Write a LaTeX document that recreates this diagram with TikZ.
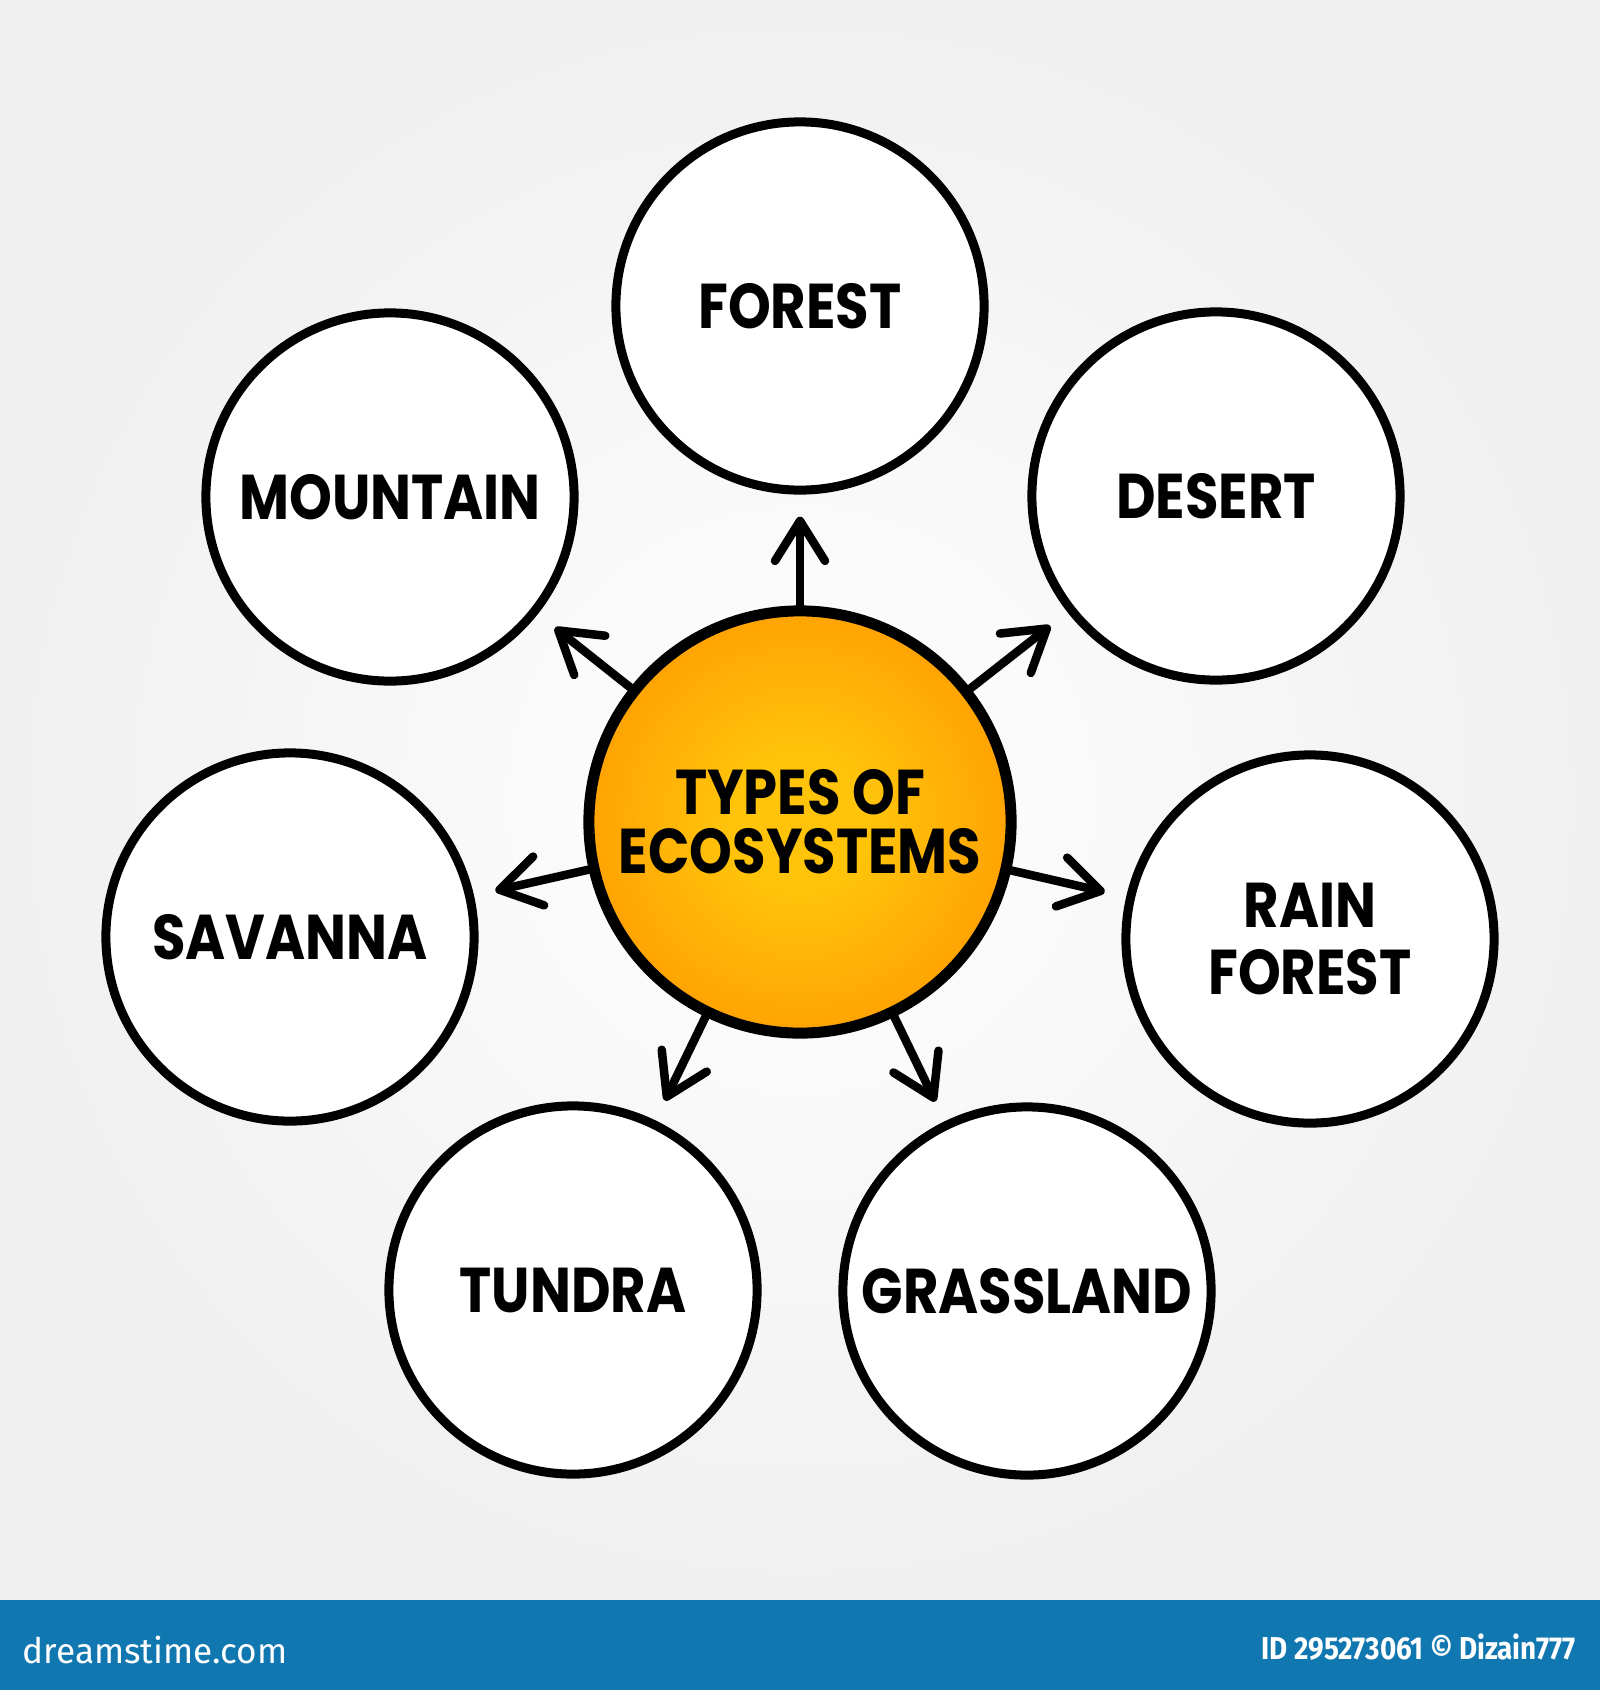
\documentclass[tikz,border=0pt]{standalone}
\usepackage{fontspec}
\setmainfont{Poppins}[FakeStretch=0.86]
\newfontfamily\barfont{Fira Sans}
\usetikzlibrary{arrows.meta}
\definecolor{bgedge}{HTML}{F0F0F0}
\definecolor{orA}{HTML}{FFC40A}
\definecolor{orB}{HTML}{FF9800}
\definecolor{barblue}{HTML}{1177B0}
\pgfdeclareradialshading{orb}{\pgfpoint{0bp}{0bp}}{color(0bp)=(orA); color(8bp)=(orA); color(31bp)=(orB); color(50bp)=(orB)}
\begin{document}
\begin{tikzpicture}[x=0.01cm,y=-0.01cm,
  eco/.style={circle, draw=black, line width=0.09cm, minimum size=3.68cm, fill=white,
    font=\fontsize{18}{19}\selectfont\bfseries, align=center, inner sep=0pt},
  hub/.style={circle, draw=black, line width=0.11cm, minimum size=4.22cm, shade, shading=orb,
    font=\fontsize{18}{16.8}\selectfont\bfseries, align=center, inner sep=0pt},
  link/.style={line width=0.085cm, line cap=round,
    -{Straight Barb[length=0.4cm, width=0.5cm, round]}, shorten >=0.22cm},
  bartext/.style={text=white, inner sep=0pt}]
\useasboundingbox (0,0) rectangle (1600,1690);
\shade[inner color=white, outer color=bgedge] (0,0) rectangle (1600,1600);
\fill[barblue] (0,1600) rectangle (1600,1690);

\node[hub] (hub) at (800,822) {TYPES OF\\ECOSYSTEMS};

\node[eco] (forest) at (800,306) {FOREST};
\node[eco] (mountain) at (390,497) {MOUNTAIN};
\node[eco] (desert) at (1216,496) {DESERT};
\node[eco] (savanna) at (290,937) {SAVANNA};
\node[eco] (rain) at (1310,939) {RAIN\\FOREST};
\node[eco] (tundra) at (573,1290) {TUNDRA};
\node[eco] (grass) at (1027,1291) {GRASSLAND};

\foreach \t in {forest,mountain,desert,savanna,rain,tundra,grass}
  \draw[link] (hub) -- (\t);

\node[bartext, anchor=west, font=\barfont\fontsize{10}{11}\selectfont] (brand) at (22,1650) {dreamstime.com};
\node[bartext, anchor=east, font=\barfont\bfseries\fontsize{9}{10}\selectfont] (credit) at (1576,1647) {\scalebox{0.88}[1]{ID 295273061 © Dizain777}};
\end{tikzpicture}
\end{document}
